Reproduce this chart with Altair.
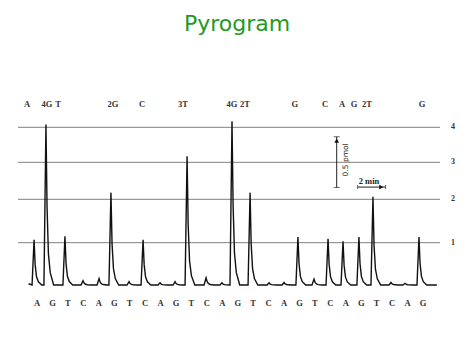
import altair as alt
import pandas as pd

# ---- data ----
dispensation = list("AGTCAGTCAGTCAGTCAGTCAGTCAG")
peak_pos = [-0.19, 0.58, 1.81, 2.98, 4.02, 4.79, 5.96, 6.87, 7.97, 8.94, 9.72, 10.95, 11.98,
            12.63, 13.8, 15.03, 16.0, 16.9, 17.94, 18.85, 19.82, 20.85, 21.76, 22.93, 23.83, 24.74]
peak_height = [1.07, 4.08, 1.15, 0.10, 0.15, 2.18, 0.08, 1.07, 0.05, 0.08, 3.17, 0.17, 0.05,
               4.17, 2.18, 0.05, 0.06, 1.13, 0.14, 1.09, 1.03, 1.13, 2.07, 0.06, 0.04, 1.13]
top_labels = ["A", "4G", "T", "2G", "C", "3T", "4G", "2T", "G", "C", "A", "G", "2T", "G"]
top_label_pos = [-0.65, 0.65, 1.36, 4.92, 6.8, 9.46, 12.63, 13.47, 16.7, 18.65, 19.75, 20.53, 21.37, 24.94]
levels = [1, 2, 3, 4]
trace_start, trace_end = -0.55, 25.9
# peak shape (time offset, fraction of height) read from the spikes
shape_dt = [-0.13, 0.0, 0.07, 0.16, 0.28, 0.5]
shape_frac = [0.0, 1.0, 0.45, 0.18, 0.07, 0.0]

rows = [{"t": trace_start, "v": 0.03}, {"t": trace_end, "v": 0.0}]
for p, h in zip(peak_pos, peak_height):
    for dt, f in zip(shape_dt, shape_frac):
        rows.append({"t": p + dt, "v": h * f})
trace = pd.DataFrame(rows).sort_values("t")

disp_df = pd.DataFrame({"i": list(range(len(dispensation))), "base": dispensation})
top_df = pd.DataFrame({"i": top_label_pos, "lab": top_labels})
lev_df = pd.DataFrame({"lev": levels, "lab": [str(l) for l in levels]})

# scale bars
vbar = pd.DataFrame({"x": [19.41], "y": [2.32], "y2": [3.73]})
hbar = pd.DataFrame({"x": [20.77], "x2": [22.58], "y": [2.33]})
caps_h = pd.DataFrame({"x": [19.41, 19.41], "y": [2.32, 3.73]})
caps_v = pd.DataFrame({"x": [20.77, 22.58], "y": [2.33, 2.33]})

xs = alt.Scale(domain=[-1.8782, 27.785], nice=False, zero=False)
ys = alt.Scale(domain=[0, 1, 2, 3, 4], range=[235, 192.7, 149.3, 112.3, 77.3], nice=False, zero=False)
X = lambda f: alt.X(f, type="quantitative", scale=xs, axis=None)
Y = lambda f: alt.Y(f, type="quantitative", scale=ys, axis=None)

grid = alt.Chart(lev_df).mark_rule(color="#808080", strokeWidth=1).encode(
    y=Y("lev"), x=alt.value(10), x2=alt.value(432))
lev_text = alt.Chart(lev_df).mark_text(font="Liberation Serif", fontSize=8, fontWeight="bold",
                                       color="#333").encode(y=Y("lev"), x=alt.value(445), text="lab:N")
line = alt.Chart(trace).mark_line(color="#111", strokeWidth=1.4, interpolate="linear").encode(
    x=X("t"), y=Y("v"), order="t:Q")
bottom = alt.Chart(disp_df).mark_text(font="Liberation Serif", fontSize=8.5, fontWeight="bold",
                                      color="#333").encode(x=X("i"), y=alt.value(253), text="base:N")
top = alt.Chart(top_df).mark_text(font="Liberation Serif", fontSize=8.5, fontWeight="bold",
                                  color="#333").encode(x=X("i"), y=alt.value(54), text="lab:N")
vb = alt.Chart(vbar).mark_rule(color="#222", strokeWidth=1).encode(x=X("x"), y=Y("y"), y2="y2")
vhead = alt.Chart(pd.DataFrame({"x": [19.41], "y": [3.62]})).mark_point(
    shape="triangle-up", filled=True, color="#111", size=22, opacity=1).encode(x=X("x"), y=Y("y"))
vcaps = alt.Chart(caps_h).mark_tick(orient="horizontal", color="#222", size=6, thickness=1).encode(
    x=X("x"), y=Y("y"))
hb = alt.Chart(hbar).mark_rule(color="#222", strokeWidth=1).encode(x=X("x"), x2="x2", y=Y("y"))
hhead = alt.Chart(pd.DataFrame({"x": [22.3], "y": [2.33]})).mark_point(
    shape="triangle-right", filled=True, color="#111", size=22, opacity=1).encode(x=X("x"), y=Y("y"))
hcaps = alt.Chart(caps_v).mark_tick(orient="vertical", color="#222", size=4, thickness=1).encode(
    x=X("x"), y=Y("y"))
pmol = alt.Chart(pd.DataFrame({"x": [20.01], "y": [3.07], "t": ["0.5 pmol"]})).mark_text(
    font="DejaVu Sans", fontSize=7.5, angle=270, color="#222").encode(x=X("x"), y=Y("y"), text="t:N")
mins = alt.Chart(pd.DataFrame({"x": [21.5], "y": [2.49], "t": ["2 min"]})).mark_text(
    font="Liberation Serif", fontSize=8.5, fontWeight="bold", color="#222").encode(
    x=X("x"), y=Y("y"), text="t:N")

chart = alt.layer(grid, lev_text, line, bottom, top, vb, vhead, vcaps, hb, hhead, hcaps, pmol, mins).properties(
    width=458, height=300,
    autosize=alt.AutoSizeParams(type="none"),
    padding={"left": 0, "top": 42, "right": 0, "bottom": 0},
    title=alt.TitleParams("Pyrogram", font="DejaVu Sans", fontSize=22, fontWeight="normal",
                          color="#1f9a1f", anchor="middle", baseline="alphabetic", offset=-3),
).configure_view(stroke=None)

chart.save("out.html", embed_options={"renderer": "svg", "actions": False})
